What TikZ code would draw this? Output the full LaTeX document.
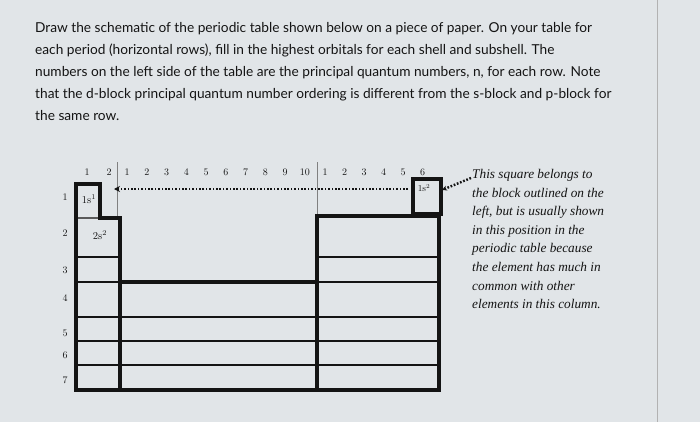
\documentclass[tikz,border=0pt]{standalone}
\usepackage{fontspec}
\newfontfamily\parafont{Lato}
\newfontfamily\notefont{Liberation Serif}
\usetikzlibrary{arrows.meta}
\definecolor{bg}{HTML}{E1E5E8}
\definecolor{ink}{HTML}{141414}
\begin{document}
\begin{tikzpicture}[x=1pt,y=-1pt,
  heavy/.style={line width=3.8pt, draw=ink, line join=miter},
  rowline/.style={line width=1.9pt, draw=ink},
  hairline/.style={line width=0.6pt, draw=gray},
  dotline/.style={line width=2.4pt, draw=ink, dash pattern=on 1.7pt off 1.7pt},
  num/.style={font=\fontsize{10}{10}\selectfont, text=ink, inner sep=0pt, anchor=base},
  cell/.style={font=\fontsize{10.5}{11}\selectfont, text=ink, inner sep=0pt},
  paraline/.style={anchor=base west, font=\parafont\fontsize{13.7}{16}\selectfont, inner sep=0pt, text=ink},
]
\useasboundingbox (0,0) rectangle (700,422);
\fill[bg] (0,0) rectangle (700,422);
\draw[line width=0.5pt, draw=gray!60] (657,0) -- (657,422);

% paragraph
\node[paraline] (p1) at (35,33) {Draw the schematic of the periodic table shown below on a piece of paper. On your table for};
\node[paraline] (p2) at (35,55) {each period (horizontal rows), fill in the highest orbitals for each shell and subshell. The};
\node[paraline] (p3) at (35,77) {numbers on the left side of the table are the principal quantum numbers, n, for each row. Note};
\node[paraline] (p4) at (35,99) {that the d-block principal quantum number ordering is different from the s-block and p-block for};
\node[paraline] (p5) at (35,121) {the same row.};

% thin separators
\draw[hairline] (117,162) -- (117,218);
\draw[hairline] (317,162) -- (317,216);

% row lines
\draw[rowline, draw=ink!70, line width=1.2pt] (76,218) -- (100,218);
\foreach \y in {257,282,317,341,365} \draw[rowline] (76,\y) -- (120,\y);
\foreach \y in {317,341,365} \draw[rowline] (120,\y) -- (317,\y);
\foreach \y in {257,282,317,341,365} \draw[rowline] (317,\y) -- (439,\y);

% outlines
\draw[heavy] (76,390) -- (76,184) -- (100,184) -- (100,218) -- (120,218) -- (120,282)
  -- (317,282) -- (317,216) -- (439,216) -- (439,390) -- cycle;
\draw[heavy] (120,282) -- (120,390);
\draw[heavy] (317,282) -- (317,390);
\node[heavy, minimum width=28pt, minimum height=35pt, inner sep=0pt, anchor=south west] (he) at (411,216) {};

% cell labels
\node[cell] (h) at (89,199) {1s\textsuperscript{1}};
\node[cell] (li) at (100,235) {2s\textsuperscript{2}};
\node[cell, font=\fontsize{9}{9}\selectfont] (hel) at (424,188) {1s\textsuperscript{2}};

% column numbers
\node[num] (c1) at (87,175) {\oldstylenums{1}};
\node[num] (c2) at (109,175) {\oldstylenums{2}};
\foreach \k in {1,...,10} \node[num] (d\k) at ({127+19.75*(\k-1)},175) {\oldstylenums{\k}};
\foreach \k in {1,...,6} \node[num] (q\k) at ({325+19.5*(\k-1)},175) {\oldstylenums{\k}};

% row numbers
\foreach \n/\y in {1/200,2/236,3/273,4/301,5/336,6/358,7/383}
  \node[num] (r\n) at (65,\y) {\oldstylenums{\n}};

% note
\node[anchor=north west, align=left, inner sep=0pt, text=ink,
  font=\notefont\itshape\fontsize{13.3}{18.6}\selectfont] (note) at (472,169)
  {This square belongs to\\the block outlined on the\\left, but is usually shown\\in this position in the\\periodic table because\\the element has much in\\common with other\\elements in this column.};

% arrows
\coordinate (dotstart) at (408,189);
\coordinate (dotend) at (114,189);
\draw[dotline, -{Stealth[length=6pt,width=6pt]}] (dotstart) -- (dotend);
\coordinate (notestart) at (471,178);
\coordinate (heend) at (442,190);
\draw[dotline, -{Stealth[length=5pt,width=5pt]}] (notestart) -- (heend);
\end{tikzpicture}
\end{document}
